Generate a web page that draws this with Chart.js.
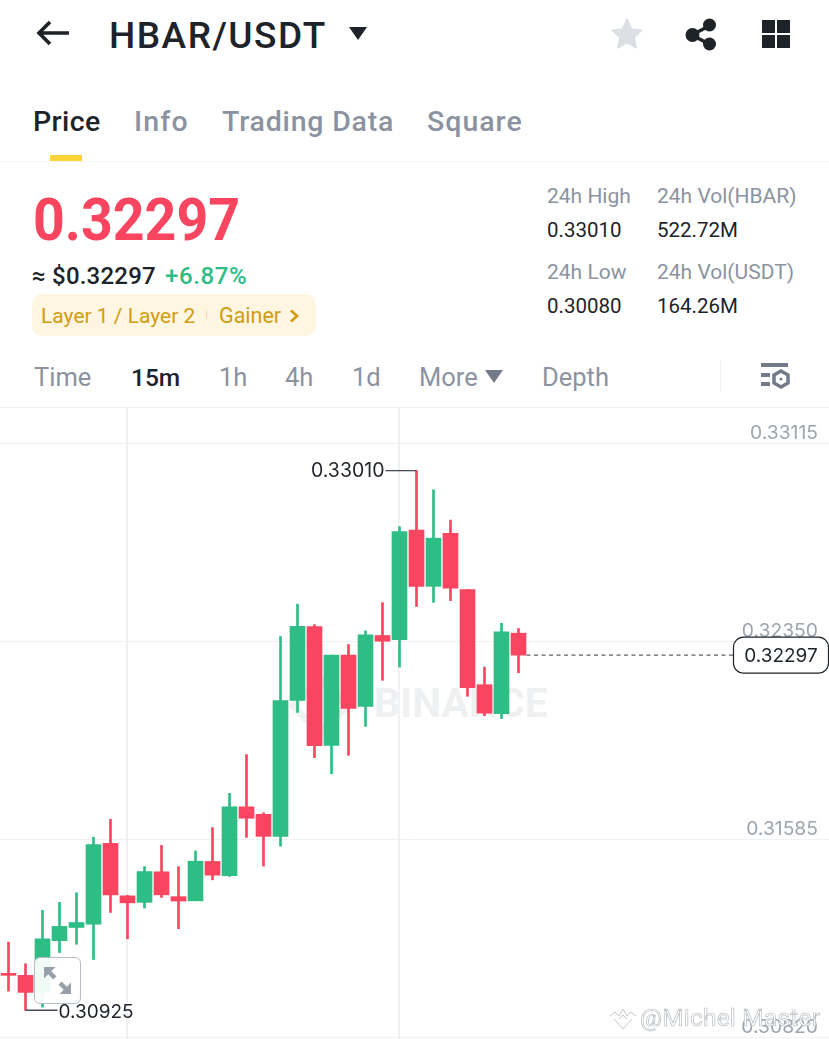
<!DOCTYPE html>
<html><head><meta charset="utf-8">
<script src="https://cdn.jsdelivr.net/npm/chart.js@4/dist/chart.umd.min.js"></script>
<style>
html,body{margin:0;padding:0;background:#fff;width:829px;height:1039px;overflow:hidden}
#app{position:relative;width:829px;height:1039px;overflow:hidden;font-family:Roboto,sans-serif}
.t{position:absolute;white-space:nowrap;line-height:1;transform:translateY(-50%)}
.abs{position:absolute}
.g{color:#8b93a1}.d{color:#1e2329}
canvas{position:absolute;left:0;top:408px}
</style></head><body>
<div id="app">
<svg class="abs" style="left:36px;top:18px" width="36" height="30" viewBox="0 0 36 30"><path d="M14 4 3 15l11 11M3 15h30" fill="none" stroke="#1e2329" stroke-width="3.6"/></svg>
<div class="t d" style="left:109px;top:35px;font-size:37px;font-weight:500;letter-spacing:1.500px">HBAR/USDT</div>
<svg class="abs" style="left:349px;top:27px" width="18" height="13"><path d="M0 0h18L9 13z" fill="#1e2329"/></svg>
<svg class="abs" style="left:610px;top:17px" width="34" height="34" viewBox="0 0 24 24"><path d="M12 1.5l3.2 6.9 7.3.9-5.4 5.1 1.4 7.4L12 18.1l-6.5 3.7 1.4-7.4L1.500 9.300l7.300-.9z" fill="#dcdfe3" stroke="#dcdfe3" stroke-linejoin="round"/></svg>
<svg class="abs" style="left:685px;top:18px" width="32" height="33" viewBox="0 0 32 33"><path d="M24 8 7 17l17 9" fill="none" stroke="#1e2329" stroke-width="3.500"/><circle cx="24.500" cy="7" r="6.500" fill="#1e2329"/><circle cx="7.500" cy="17" r="7" fill="#1e2329"/><circle cx="24.500" cy="26" r="6.500" fill="#1e2329"/></svg>
<svg class="abs" style="left:761px;top:19px" width="30" height="30"><path d="M1 1h13v13H1zM16 1h13v13H16zM1 16h13v13H1zM16 16h13v13H16z" fill="#1e2329"/></svg>

<div class="t d" style="left:33px;top:122px;font-size:28.500px;font-weight:500;letter-spacing:.4px">Price</div>
<div class="t g" style="left:134px;top:122px;font-size:28.500px;font-weight:500;letter-spacing:1.200px">Info</div>
<div class="t g" style="left:222px;top:122px;font-size:28.500px;font-weight:500;letter-spacing:.8px">Trading Data</div>
<div class="t g" style="left:427px;top:122px;font-size:28.500px;font-weight:500;letter-spacing:1px">Square</div>
<div class="abs" style="left:50px;top:155px;width:32px;height:6px;background:#fcd535"></div>
<div class="abs" style="left:0;top:161px;width:829px;height:1px;background:#f3f4f5"></div>

<div class="t" style="left:33px;top:220px;font-size:60px;font-weight:700;color:#f9455f;transform:translateY(-50%) scaleX(.925);transform-origin:left center">0.32297</div>
<div class="t d" style="left:32px;top:276px;font-size:24px;font-weight:500;letter-spacing:.2px">≈ $0.32297</div>
<div class="t" style="left:165px;top:276px;font-size:24px;font-weight:500;color:#2ebd85;letter-spacing:.6px">+6.87%</div>
<div class="abs" style="left:32px;top:294px;width:284px;height:42px;background:#fef6e1;border-radius:10px"></div>
<div class="t" style="left:41px;top:316px;font-size:21px;color:#d29c10">Layer 1 / Layer 2</div>
<div class="abs" style="left:206px;top:311px;width:1px;height:8px;background:#e6d9ae"></div>
<div class="t" style="left:219px;top:316px;font-size:21.500px;color:#d29c10">Gainer</div>
<svg class="abs" style="left:289px;top:309px" width="11" height="14"><path d="M2 1.500 8 7l-6 5.500" fill="none" stroke="#d29c10" stroke-width="2.600"/></svg>

<div class="t g" style="left:547px;top:196px;font-size:21px">24h High</div>
<div class="t g" style="left:657px;top:196px;font-size:21px">24h Vol(HBAR)</div>
<div class="t d" style="left:547px;top:230px;font-size:20.500px">0.33010</div>
<div class="t d" style="left:657px;top:230px;font-size:20.500px">522.72M</div>
<div class="t g" style="left:547px;top:272px;font-size:21px">24h Low</div>
<div class="t g" style="left:657px;top:272px;font-size:21px">24h Vol(USDT)</div>
<div class="t d" style="left:547px;top:306px;font-size:20.500px">0.30080</div>
<div class="t d" style="left:657px;top:306px;font-size:20.500px">164.26M</div>

<div class="t g" style="left:34px;top:378px;font-size:25.500px">Time</div>
<div class="t d" style="left:131px;top:378px;font-size:24.500px;font-weight:500">15m</div>
<div class="t g" style="left:219px;top:378px;font-size:25.500px">1h</div>
<div class="t g" style="left:285px;top:378px;font-size:25.500px">4h</div>
<div class="t g" style="left:352px;top:378px;font-size:25.500px">1d</div>
<div class="t g" style="left:419px;top:378px;font-size:25.500px">More</div>
<svg class="abs" style="left:485px;top:370px" width="18" height="13"><path d="M0 0h18L9 13z" fill="#737b8a"/></svg>
<div class="t g" style="left:542px;top:378px;font-size:25.500px">Depth</div>
<div class="abs" style="left:720px;top:360px;width:1px;height:32px;background:#eff0f2"></div>
<svg class="abs" style="left:760px;top:362px" width="30" height="30"><path d="M1 1h27v4H1zM1 11h9v4H1zM1 20h9v4H1z" fill="#737b8a"/><path d="M21 9l7 4v8l-7 4-7-4v-8z" fill="none" stroke="#737b8a" stroke-width="3.500"/><circle cx="21" cy="17" r="1.500" fill="#737b8a"/></svg>
<div class="abs" style="left:0;top:407px;width:829px;height:1px;background:#f0f1f2"></div>

<canvas id="c" width="829" height="631"></canvas>

<div class="abs" style="left:34px;top:957px;width:45px;height:45px;border:1.500px solid #b7bdc6;border-radius:6px;background:rgba(255,255,255,.93)"></div>
<svg class="abs" style="left:43px;top:966px" width="29" height="29" viewBox="0 0 28 28"><path d="M1 1h11l-4 4 5 5-3 3-5-5-4 4zM27 27H16l4-4-5-5 3-3 5 5 4-4z" fill="#98a0ac"/></svg>

<svg class="abs" style="left:609px;top:1007px" width="28" height="24" viewBox="0 0 28 24" fill="none" stroke="#c4c7cb" stroke-width="1"><path d="M1 9l5-4 4 4 4-7 4 7 4-4 5 4M5 12l9 10 9-10M10 12l4-4 4 4"/></svg>
<div class="t" style="left:640px;top:1018px;font-size:24.500px;color:#fff;-webkit-text-stroke:.7px #b9bdc2;letter-spacing:.2px">@Michel Master</div>
</div>
<script>
const candleIndex = [0,1,2,3,4,5,6,7,8,9,10,11,12,13,14,15,16,17,18,19,20,21,22,23,24,25,26,27,28,29,30];
const openPrice  = [.31065,.31060,.30994,.31194,.31245,.31258,.31570,.31367,.31342,.31460,.31364,.31348,.31500,.31445,.31711,.31682,.31597,.32122,.32407,.31948,.32297,.32099,.32373,.32357,.32780,.32563,.32768,.32550,.32183,.32071,.32382];
const highPrice  = [.31188,.31105,.31311,.31342,.31379,.31594,.31663,.31369,.31480,.31562,.31480,.31541,.31631,.31763,.31913,.31688,.32369,.32494,.32415,.32297,.32338,.32391,.32500,.32794,.33010,.32936,.32819,.32550,.32251,.32420,.32400];
const lowPrice   = [.30999,.30925,.30937,.31148,.31180,.31121,.31303,.31201,.31320,.31361,.31240,.31348,.31429,.31442,.31593,.31482,.31559,.32076,.31901,.31839,.31910,.32022,.32200,.32251,.32485,.32501,.32508,.32138,.32063,.32052,.32229];
const closePrice = [.31060,.30994,.31201,.31249,.31264,.31565,.31371,.31340,.31461,.31371,.31347,.31501,.31447,.31711,.31667,.31597,.32122,.32408,.31947,.32297,.32091,.32376,.32351,.32775,.32563,.32749,.32556,.32171,.32073,.32387,.32297];
const priceTicks = [.33115,.32350,.31585,.30820];
const timeGrid = [7,23];
const lastPrice = .32297;
const highLabelIndex = 24, lowLabelIndex = 1;

const UP='#2ebd85', DOWN='#f9455f';
const col = ctx => closePrice[ctx.dataIndex] >= openPrice[ctx.dataIndex] ? UP : DOWN;
const fnt = 'Inter, sans-serif';

const overlay = {
  id:'overlay',
  beforeDatasetsDraw(ch){
    const c=ch.ctx;
    c.save();
    c.fillStyle='#eef0f1';
    c.font='700 41px Roboto, sans-serif';
    c.textBaseline='middle';c.textAlign='left';
    c.fillText('BINANCE',374,299);
    c.strokeStyle='#eef0f1';c.lineWidth=7;
    c.beginPath();c.moveTo(293,298);c.lineTo(320,271);c.lineTo(347,298);c.lineTo(320,325);c.closePath();c.stroke();
    c.restore();
  },
  afterDraw(ch){
    const c=ch.ctx,x=ch.scales.x,y=ch.scales.y;
    c.save();
    c.font='400 19.500px '+fnt;c.textBaseline='middle';
    c.strokeStyle='#474d57';c.lineWidth=1.3;c.fillStyle='#1e2329';
    const hx=x.getPixelForValue(highLabelIndex),hy=y.getPixelForValue(highPrice[highLabelIndex]);
    c.beginPath();c.moveTo(hx,hy);c.lineTo(hx-31,hy);c.stroke();
    c.textAlign='right';c.fillText(highPrice[highLabelIndex].toFixed(5),hx-32,hy+1);
    const lx=x.getPixelForValue(lowLabelIndex),ly=y.getPixelForValue(lowPrice[lowLabelIndex]);
    c.beginPath();c.moveTo(lx,ly);c.lineTo(lx+32,ly);c.stroke();
    c.font='400 19px '+fnt;
    c.textAlign='left';c.fillText(lowPrice[lowLabelIndex].toFixed(5),lx+33,ly+2);
    const py=y.getPixelForValue(lastPrice),px=x.getPixelForValue(candleIndex[candleIndex.length-1]);
    c.setLineDash([4,3.500]);c.strokeStyle='#5a6069';
    c.beginPath();c.moveTo(px+8,py);c.lineTo(733,py);c.stroke();c.setLineDash([]);
    c.fillStyle='#fff';c.strokeStyle='#1e2329';c.lineWidth=1.2;
    c.beginPath();c.roundRect(733.500,py-18,95,36,10);c.fill();c.stroke();
    c.fillStyle='#1e2329';c.textAlign='center';c.fillText(lastPrice.toFixed(5),781,py+1);
    c.restore();
  }
};

new Chart(document.getElementById('c'),{
  type:'bar',
  data:{datasets:[
    {label:'Body',data:candleIndex.map(i=>({x:i,y:[openPrice[i],closePrice[i]]})),backgroundColor:col,barThickness:15,minBarLength:2},
    {label:'Wick',data:candleIndex.map(i=>({x:i,y:[lowPrice[i],highPrice[i]]})),backgroundColor:col,barThickness:2}
  ]},
  options:{
    responsive:false,animation:false,devicePixelRatio:1,
    layout:{padding:0},
    datasets:{bar:{grouped:false}},
    plugins:{legend:{display:false},tooltip:{enabled:false}},
    scales:{
      x:{type:'linear',min:-0.5,max:48.265,offset:false,
        afterBuildTicks:s=>{s.ticks=timeGrid.map(v=>({value:v}))},
        afterFit:s=>{s.height=0;s.paddingLeft=0;s.paddingRight=0},
        ticks:{display:false},border:{display:false},
        grid:{offset:false,color:'#f0f1f5',lineWidth:2,drawTicks:false}},
      y:{type:'linear',position:'right',min:.30814,max:.33252,
        afterBuildTicks:s=>{s.ticks=priceTicks.map(v=>({value:v}))},
        afterFit:s=>{s.width=0;s.paddingTop=0;s.paddingBottom=0},
        border:{display:false},
        grid:{color:'#eff1f3',lineWidth:1,drawTicks:false},
        ticks:{mirror:true,padding:-11,labelOffset:-10,autoSkip:false,color:'#9da5b0',
          font:{family:'Inter, sans-serif',size:19.300},
          callback:v=>v.toFixed(5)}}
    }
  },
  plugins:[overlay]
});
</script>
</body></html>
